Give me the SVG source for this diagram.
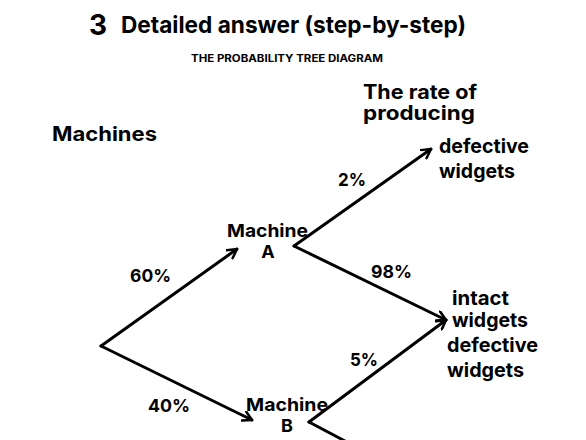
<svg xmlns="http://www.w3.org/2000/svg" width="586" height="440" viewBox="0 0 586 440">
<style>
text{font-family:Inter,"Open Sans","Liberation Sans",sans-serif;font-weight:700;fill:#000}
.t{font-size:20px}
.l{font-size:18px}
.c{stroke:#000;stroke-width:3;fill:none;stroke-linecap:round}
</style>
<defs>
<marker id="ah" viewBox="0 0 12 12" refX="10" refY="6" markerWidth="12" markerHeight="12" markerUnits="userSpaceOnUse" orient="auto">
<path d="M1,1 L10,6 L1,11" fill="none" stroke="#000" stroke-width="2.5" stroke-linecap="round" stroke-linejoin="round"/>
</marker>
</defs>
<rect width="586" height="440" fill="#fff"/>
<g id="title">
<text x="89" y="35" style="font-size:28px">3</text>
<text x="121" y="33" style="font-size:23px" textLength="345" lengthAdjust="spacingAndGlyphs">Detailed answer (step-by-step)</text>
<text x="287" y="62" style="font-size:10px" text-anchor="middle" textLength="192" lengthAdjust="spacingAndGlyphs">THE PROBABILITY TREE DIAGRAM</text>
</g>
<g id="connectors">
<path class="c" d="M101,346 L237,249" marker-end="url(#ah)"/>
<path class="c" d="M101,346 L252,420" marker-end="url(#ah)"/>
<path class="c" d="M294,246 L431,149" marker-end="url(#ah)"/>
<path class="c" d="M294,246 L446,320" marker-end="url(#ah)"/>
<path class="c" d="M309,422 L446,320" marker-end="url(#ah)"/>
<path class="c" d="M309,422 L345,441"/>
</g>
<g id="labels">
<text class="l" x="130" y="282" textLength="41" lengthAdjust="spacingAndGlyphs">60%</text>
<text class="l" x="148" y="412" textLength="42" lengthAdjust="spacingAndGlyphs">40%</text>
<text class="l" x="338" y="186" textLength="28" lengthAdjust="spacingAndGlyphs">2%</text>
<text class="l" x="371" y="278" textLength="41" lengthAdjust="spacingAndGlyphs">98%</text>
<text class="l" x="350" y="366" textLength="28" lengthAdjust="spacingAndGlyphs">5%</text>
</g>
<g id="machines"><text class="t" x="52" y="141" textLength="105" lengthAdjust="spacingAndGlyphs">Machines</text></g>
<g id="rate"><text class="t" x="363" y="99" textLength="114" lengthAdjust="spacingAndGlyphs">The rate of</text><text class="t" x="363" y="120" textLength="112" lengthAdjust="spacingAndGlyphs">producing</text></g>
<g id="machineA"><text class="l" x="227" y="237" textLength="81" lengthAdjust="spacingAndGlyphs">Machine</text><text class="l" x="268" y="258" text-anchor="middle">A</text></g>
<g id="machineB"><text class="l" x="246" y="411" textLength="82" lengthAdjust="spacingAndGlyphs">Machine</text><text class="l" x="287" y="432" text-anchor="middle">B</text></g>
<g id="defectiveA"><text class="t" x="439" y="153" textLength="90" lengthAdjust="spacingAndGlyphs">defective</text><text class="t" x="439" y="178" textLength="76" lengthAdjust="spacingAndGlyphs">widgets</text></g>
<g id="intact"><text class="t" x="452" y="305" textLength="57" lengthAdjust="spacingAndGlyphs">intact</text><text class="t" x="452" y="327" textLength="76" lengthAdjust="spacingAndGlyphs">widgets</text></g>
<g id="defectiveB"><text class="t" x="447" y="352" textLength="91" lengthAdjust="spacingAndGlyphs">defective</text><text class="t" x="447" y="377" textLength="77" lengthAdjust="spacingAndGlyphs">widgets</text></g>
</svg>
